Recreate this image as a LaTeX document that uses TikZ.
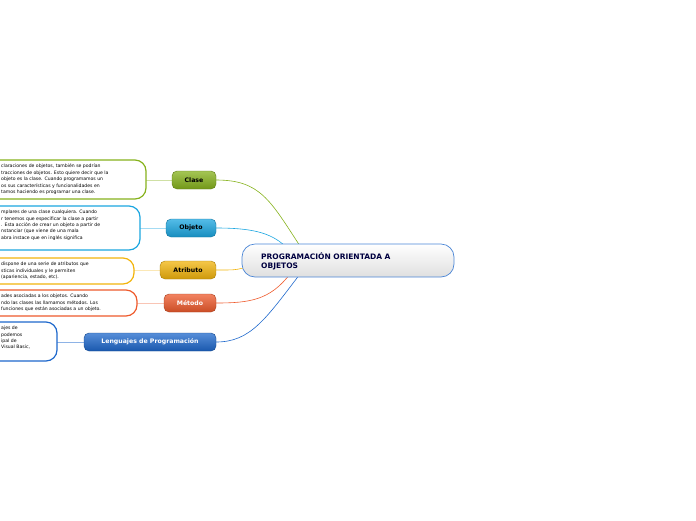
\documentclass[tikz,border=0pt]{standalone}
\usepackage{fontspec}
\setmainfont{DejaVu Sans}
\begin{document}
\begin{tikzpicture}[x=1pt,y=-1pt,
 tb/.style={draw=#1,line width=1.2pt,fill=white,rounded corners=11pt},
 lab/.style={rounded corners=5pt,draw=#1!70!black,line width=.4pt,top color=#1!75,bottom color=#1!85!black,font=\bfseries\fontsize{6.2}{7}\selectfont,minimum height=18pt,inner sep=0pt},
 txt/.style={anchor=north west,font=\fontsize{4.6}{6.4}\selectfont,align=left,inner sep=0pt},
 con/.style={draw=#1,line width=.6pt}]
\useasboundingbox (0,0) rectangle (696,520);
\clip (0,0) rectangle (696,520);
\definecolor{cg}{HTML}{86B21C}
\definecolor{cb}{HTML}{1BA6E0}
\definecolor{cy}{HTML}{F2B40C}
\definecolor{cr}{HTML}{EE5A2C}
\definecolor{cd}{HTML}{1E68CC}
% connectors from hub
\draw[con=cg] (300,246) .. controls (270,200) and (260,180) .. (216,180);
\draw[con=cb] (285,246) .. controls (270,232) and (250,228) .. (216,228);
\draw[con=cy] (243,268) .. controls (235,270) .. (216,270);
\draw[con=cr] (290,274) .. controls (270,300) and (250,303) .. (216,303);
\draw[con=cd] (300,274) .. controls (265,320) and (250,342) .. (216,342);
% short links
\draw[draw=cg!40,line width=.8pt] (146,180) -- (172,180);
\draw[draw=cb!40,line width=.8pt] (140,228) -- (166,228);
\draw[draw=cy!30,line width=.8pt] (134,270) -- (160,270);
\draw[draw=cr!35,line width=.8pt] (137,303) -- (164,303);
\draw[draw=cd!50,line width=.8pt] (57,342) -- (84,342);
% text boxes
\draw[tb=cg] (-20,160) rectangle (146,199);
\node[txt] (t1) at (1,164) {claraciones de objetos, también se podrían\\tracciones de objetos. Esto quiere decir que la\\objeto es la clase. Cuando programamos un\\os sus características y funcionalidades en\\tamos haciendo es programar una clase.};
\draw[tb=cb] (-20,206) rectangle (140,250);
\node[txt] (t2) at (1,210) {mplares de una clase cualquiera. Cuando\\r tenemos que especificar la clase a partir\\. Esta acción de crear un objeto a partir de\\nstanciar (que viene de una mala\\abra instace que en inglés significa};
\draw[tb=cy] (-20,258) rectangle (134,284);
\node[txt] (t3) at (1,262) {dispone de una serie de atributos que\\sticas individuales y le permiten\\ (apariencia, estado, etc).};
\draw[tb=cr] (-20,290) rectangle (137,316);
\node[txt] (t4) at (1,294) {ades asociadas a los objetos. Cuando\\ndo las clases las llamamos métodos. Los\\ funciones que están asociadas a un objeto.};
\draw[tb=cd] (-20,322) rectangle (57,361);
\node[txt] (t5) at (1,326) {ajes de\\ podemos\\ipal de\\ Visual Basic,};
% label nodes
\node[lab=cg,minimum width=44pt] (clase) at (194,180) {Clase};
\node[lab=cb,minimum width=50pt] (objeto) at (191,228) {Objeto};
\node[lab=cy,minimum width=56pt] (atributo) at (188,270) {Atributo};
\node[lab=cr,minimum width=52pt,text=white] (metodo) at (190,303) {Método};
\node[lab=cd,minimum width=132pt,text=white] (leng) at (150,342) {Lenguajes de Programación};
% main
\node[draw=cd!80,line width=.7pt,rounded corners=13pt,top color=white,bottom color=gray!25,minimum width=212pt,minimum height=33pt,inner sep=0pt] (main) at (348,260.5) {};
\node[anchor=west,font=\bfseries\fontsize{7.5}{9}\selectfont,text=blue!25!black,align=left,inner sep=0pt] (title) at (261,261) {PROGRAMACIÓN ORIENTADA A\\OBJETOS};
\end{tikzpicture}
\end{document}
